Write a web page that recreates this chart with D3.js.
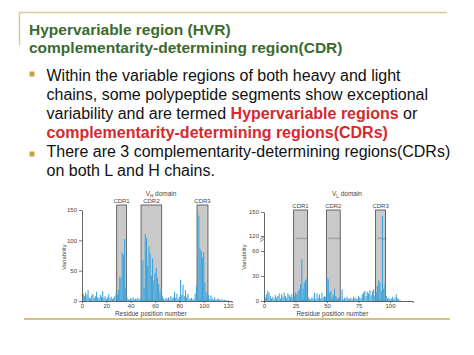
<!DOCTYPE html>
<html>
<head>
<meta charset="utf-8">
<script src="https://cdn.jsdelivr.net/npm/d3@7"></script>
<style>
  body { margin: 0; background: #fff; }
  svg { display: block; font-family: "Liberation Sans", Arial, sans-serif; }
</style>
</head>
<body>
<script>
// residue variability, VH domain (residues 1..120)
var vhValues = [12, 8, 14, 10, 18, 6, 4, 9, 12, 5, 8, 15, 6, 4, 10, 7, 16, 5, 8, 3,
  6, 11, 4, 7, 3, 5, 8, 14, 10, 18, 40, 38, 80, 76, 102, 22, 6, 3, 2, 5,
  3, 6, 2, 4, 3, 5, 2, 4, 6, 68, 22, 110, 104, 58, 90, 78, 42, 70, 34, 46,
  55, 38, 28, 14, 22, 8, 4, 2, 5, 3, 6, 2, 8, 4, 6, 15, 5, 12, 3, 7,
  35, 10, 27, 8, 18, 6, 12, 4, 3, 5, 2, 4, 12, 25, 150, 140, 86, 82, 72, 80,
  30, 14, 5, 10, 3, 9, 4, 2, 6, 2, 3, 4, 2, 1, 3, 1, 2, 1, 1, 1];
// residue variability, VL domain (residues 1..108)
var vlValues = [4, 8, 12, 10, 6, 3, 5, 2, 7, 4, 6, 9, 3, 8, 5, 10, 6, 4, 9, 7,
  5, 8, 4, 6, 10, 8, 12, 14, 20, 50, 15, 22, 25, 27, 5, 3, 2, 4, 3, 10,
  2, 9, 4, 8, 3, 10, 4, 6, 5, 28, 26, 10, 12, 5, 8, 15, 6, 4, 3, 5,
  3, 14, 2, 4, 3, 5, 2, 3, 4, 2, 5, 3, 4, 2, 6, 4, 3, 8, 10, 12,
  6, 11, 9, 13, 7, 12, 14, 6, 10, 18, 25, 22, 12, 145, 15, 20, 6, 3, 4, 2,
  3, 5, 2, 4, 8, 3, 2, 1];
var vhCdrs = [["CDR1", 29, 36], ["CDR2", 49, 65], ["CDR3", 95, 103]];
var vlCdrs = [["CDR1", 24, 34], ["CDR2", 50, 60], ["CDR3", 89, 96]];
var vhXTicks = [0, 20, 40, 60, 80, 100, 120];
var vhYTicks = [0, 50, 100, 150];
var vlXTicks = [0, 25, 50, 75, 100];
var vlYTicks = [0, 30, 60, 120, 150];

var svg = d3.select("body").append("svg")
  .attr("width", 474)
  .attr("height", 355);

// slide frame
var frame = "#d6cb98";
svg.append("line").attr("x1", 19).attr("x2", 447).attr("y1", 12.5).attr("y2", 12.5)
  .attr("stroke", frame).attr("stroke-width", 1.5);
svg.append("line").attr("x1", 19.5).attr("x2", 19.5).attr("y1", 12).attr("y2", 45)
  .attr("stroke", frame).attr("stroke-width", 1.5);
svg.append("line").attr("x1", 24).attr("x2", 450).attr("y1", 319).attr("y2", 319)
  .attr("stroke", "#d2c283").attr("stroke-width", 2);

// title
var title = svg.append("g")
  .attr("fill", "#3b6a2e")
  .style("font-weight", "bold")
  .style("font-size", "15.5px");
title.append("text").attr("x", 29).attr("y", 35).text("Hypervariable region (HVR)");
title.append("text").attr("x", 29).attr("y", 53).text("complementarity-determining region(CDR)");

// bullets
svg.selectAll(".bullet")
  .data([74, 154])
  .enter().append("rect")
  .attr("class", "bullet")
  .attr("x", 29.5).attr("y", function (d) { return d - 2.5; })
  .attr("width", 5).attr("height", 5)
  .attr("fill", "#c9a33c");

var body = svg.append("g").style("font-size", "16px").attr("fill", "#111");
var lines = [
  [["Within the variable regions of both heavy and light", 0]],
  [["chains, some polypeptide segments show exceptional", 0]],
  [["variability and are termed ", 0], ["Hypervariable regions", 1], [" or", 0]],
  [["complementarity-determining regions(CDRs)", 1]],
  [["There are 3 complementarity-determining regions(CDRs)", 0]],
  [["on both L and H chains.", 0]]
];
var baselines = [81, 100, 118.5, 137.5, 157, 176];
lines.forEach(function (parts, i) {
  var t = body.append("text").attr("x", 46.5).attr("y", baselines[i]);
  parts.forEach(function (p) {
    var s = t.append("tspan").text(p[0]);
    if (p[1]) s.attr("fill", "#d42a2e").style("font-weight", "bold");
  });
});

var barColor = "#3fa4dc";
var axisColor = "#555";

function drawChart(cfg) {
  var g = svg.append("g").style("font-size", "6px").attr("fill", "#444");
  var x = d3.scaleLinear().domain(cfg.xDomain).range(cfg.xRange);
  var y = d3.scaleLinear().domain(cfg.yDomain).range(cfg.yRange);
  var y0 = y(0);

  // CDR boxes
  var boxes = g.selectAll(".cdr").data(cfg.cdrs).enter().append("g");
  boxes.append("rect")
    .attr("x", function (d) { return x(d[1] - 0.5); })
    .attr("width", function (d) { return x(d[2] + 0.5) - x(d[1] - 0.5); })
    .attr("y", cfg.boxTop)
    .attr("height", y0 - cfg.boxTop)
    .attr("fill", "#c9c9c9")
    .attr("stroke", "#4a4a4a")
    .attr("stroke-width", 0.8);
  boxes.append("text")
    .attr("x", function (d) { return (x(d[1] - 0.5) + x(d[2] + 0.5)) / 2; })
    .attr("y", cfg.boxTop - 2)
    .attr("text-anchor", "middle")
    .text(function (d) { return d[0]; });

  if (cfg.breakY) {
    boxes.append("path")
      .attr("d", function (d) {
        var a = x(d[1] - 0.5) + 2, b = x(d[2] + 0.5) - 2, p = "M" + a + "," + cfg.breakY;
        for (var k = a; k < b; k += 3) p += " q1.5,-2.5 3,0";
        return p;
      })
      .attr("fill", "none").attr("stroke", "#666").attr("stroke-width", 0.6);
  }

  // bars
  g.selectAll(".bar").data(cfg.values).enter().append("rect")
    .attr("x", function (d, i) { return x(i + 1) - 0.55; })
    .attr("width", 1.1)
    .attr("y", function (d) { return y(d); })
    .attr("height", function (d) { return y0 - y(d); })
    .attr("fill", barColor);

  // axes
  var xAxis = g.append("g").attr("transform", "translate(0," + y0 + ")")
    .call(d3.axisBottom(x).tickValues(cfg.xTicks).tickSize(2).tickPadding(0.5));
  var yAxis = g.append("g").attr("transform", "translate(" + cfg.xRange[0] + ",0)")
    .call(d3.axisLeft(y).tickValues(cfg.yTicks).tickSize(3).tickPadding(2).tickSizeOuter(0));
  [xAxis, yAxis].forEach(function (a) {
    a.select(".domain").attr("stroke", axisColor).attr("stroke-width", 0.9);
    a.selectAll(".tick line").attr("stroke", axisColor).attr("stroke-width", 0.8);
    a.selectAll("text").attr("fill", "#444").style("font-size", "6px")
      .style("font-family", "'Liberation Sans', Arial, sans-serif");
  });

  if (cfg.breakY) {
    var bx = cfg.xRange[0];
    [-1.2, 1.2].forEach(function (dy) {
      g.append("line")
        .attr("x1", bx - 4).attr("x2", bx + 1)
        .attr("y1", cfg.breakY + dy + 1.5).attr("y2", cfg.breakY + dy - 1.5)
        .attr("stroke", "#555").attr("stroke-width", 0.7);
    });
  }

  g.append("text")
    .attr("x", (cfg.xRange[0] + cfg.xRange[1]) / 2 - 6)
    .attr("y", 315.5)
    .attr("text-anchor", "middle")
    .style("font-size", "6.5px")
    .text("Residue position number");

  g.append("text")
    .attr("transform", "translate(" + cfg.yLabelX + ",257) rotate(-90)")
    .attr("text-anchor", "middle")
    .style("font-size", "6px")
    .text("Variability");

  var ttl = g.append("text")
    .attr("x", cfg.titleX).attr("y", 196)
    .attr("text-anchor", "middle")
    .style("font-size", "6.5px");
  ttl.append("tspan").text("V");
  ttl.append("tspan").attr("dy", 1.5).style("font-size", "4.5px").text(cfg.sub);
  ttl.append("tspan").attr("dy", -1.5).text(" domain");
}

drawChart({
  values: vhValues, cdrs: vhCdrs,
  xDomain: [0, 123], xRange: [82, 231.7],
  yDomain: [0, 150], yRange: [301, 210],
  xTicks: vhXTicks, yTicks: vhYTicks,
  boxTop: 205, yLabelX: 66, titleX: 161, sub: "H"
});

drawChart({
  values: vlValues, cdrs: vlCdrs,
  xDomain: [0, 118], xRange: [264, 412.7],
  yDomain: [0, 60, 120, 150], yRange: [301, 251, 236, 212],
  xTicks: vlXTicks, yTicks: vlYTicks,
  boxTop: 210, yLabelX: 246, titleX: 347, sub: "L", breakY: 239
});
</script>
</body>
</html>
